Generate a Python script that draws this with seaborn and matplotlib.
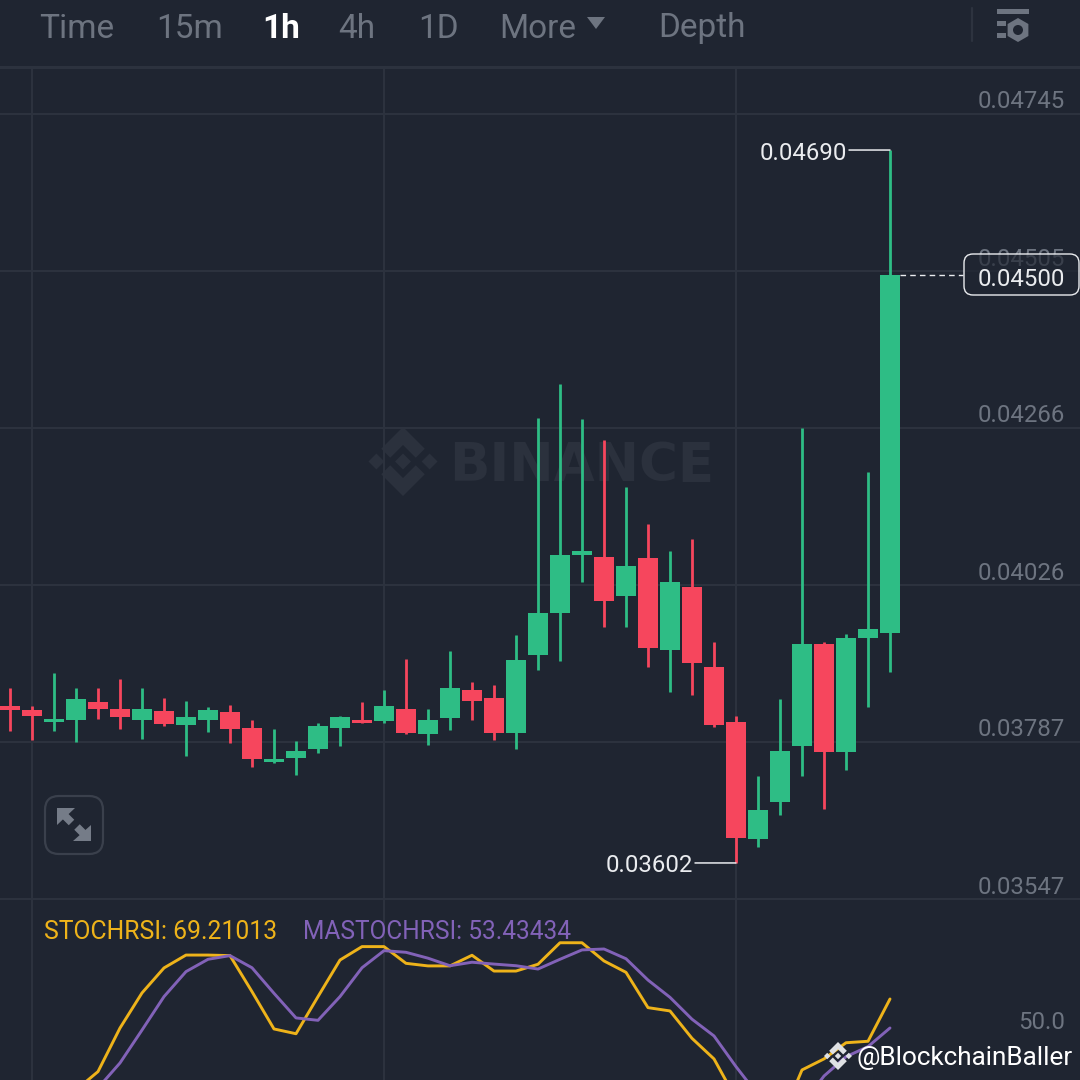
import matplotlib
matplotlib.use("Agg")
import matplotlib.pyplot as plt
import pandas as pd
import seaborn as sns
from matplotlib.patches import Circle, FancyBboxPatch, Polygon, RegularPolygon

BG = "#1f2531"
GRID = "#2d333f"
GREEN = "#2ebd85"
RED = "#f6465d"
TICK_GREY = "#6d7480"
WHITE = "#eaecef"
YELLOW = "#eeb31a"
PURPLE = "#8262b8"

# candles, oldest first
opens = [0.038415, 0.038354, 0.038167, 0.038202, 0.038476, 0.038370, 0.038202, 0.038339, 0.038125, 0.038197,
         0.038319, 0.038075, 0.037561, 0.037626, 0.037755, 0.038075, 0.038197, 0.038186, 0.038374, 0.037993,
         0.038237, 0.038664, 0.038537, 0.037999, 0.039189, 0.039839, 0.040715, 0.040689, 0.040090, 0.040669,
         0.039270, 0.040236, 0.039011, 0.038176, 0.036381, 0.036950, 0.037800, 0.039366, 0.037709, 0.039449,
         0.039529]
highs = [0.038685, 0.038415, 0.038924, 0.038690, 0.038690, 0.038823, 0.038695, 0.038533, 0.038487, 0.038396,
         0.038426, 0.038197, 0.038060, 0.037877, 0.038151, 0.038263, 0.038476, 0.038664, 0.039133, 0.038365,
         0.039255, 0.038777, 0.038736, 0.039499, 0.042806, 0.043329, 0.042791, 0.042475, 0.041762, 0.041193,
         0.040776, 0.040964, 0.039392, 0.038258, 0.037343, 0.038522, 0.042658, 0.039387, 0.039514, 0.041986,
         0.046900]
lows = [0.038038, 0.037896, 0.038034, 0.037871, 0.038217, 0.038064, 0.037912, 0.038110, 0.037652, 0.038019,
        0.037846, 0.037489, 0.037550, 0.037362, 0.037698, 0.037805, 0.038151, 0.038160, 0.037993, 0.037825,
        0.038049, 0.038197, 0.037896, 0.037759, 0.038969, 0.039098, 0.040308, 0.039626, 0.039616, 0.039011,
        0.038629, 0.038579, 0.038090, 0.036020, 0.036259, 0.036747, 0.037347, 0.036839, 0.037439, 0.038400,
        0.038934]
closes = [0.038354, 0.038263, 0.038212, 0.038518, 0.038365, 0.038252, 0.038374, 0.038136, 0.038243, 0.038350,
          0.038064, 0.037607, 0.037607, 0.037724, 0.038115, 0.038243, 0.038151, 0.038415, 0.038003, 0.038197,
          0.038685, 0.038487, 0.038003, 0.039117, 0.039839, 0.040715, 0.040785, 0.040022, 0.040547, 0.039301,
          0.040308, 0.039067, 0.038130, 0.036396, 0.036833, 0.037724, 0.039366, 0.037709, 0.039449, 0.039586,
          0.045000]

# oscillator starts at candle 3
stoch_start = 3
stochrsi = [19.7, 29.7, 53.4, 72.5, 86.1, 93.1, 93.1, 92.8, 73.2, 52.9, 50.3, 70.5, 90.4, 97.7, 97.7, 88.6, 87.2,
            87.2, 93.0, 84.4, 84.4, 88.1, 99.8, 99.8, 89.9, 83.7, 64.5, 62.7, 47.8, 36.6, 14.9, 3.4, 2.3, 30.6,
            36.6, 45.4, 46.2, 69.21013]
mastochrsi = [7.7, 20.8, 34.4, 52.3, 70.5, 84.1, 90.8, 92.8, 86.2, 72.3, 58.9, 57.6, 70.5, 86.2, 95.5, 94.6, 91.4,
              87.3, 89.2, 88.2, 87.3, 85.5, 90.8, 95.9, 96.4, 91.1, 79.5, 70.1, 58.2, 49.1, 32.4, 17.0, 8.8, 11.5,
              27.3, 37.8, 43.3, 53.43434]

price_ticks = [0.04745, 0.04505, 0.04266, 0.04026, 0.03787, 0.03547]
grid_candles = [1, 17, 33]
tabs = ["Time", "15m", "1h", "4h", "1D", "More", "Depth"]
tab_x = [39, 156, 262, 338, 418, 499, 658]


def px_axes(fig, zorder):
    a = fig.add_axes([0, 0, 1, 1], zorder=zorder)
    a.set_xlim(0, 1080)
    a.set_ylim(1080, 0)
    a.axis("off")
    return a


def binance_logo(a, cx, cy, r, color, zorder=1):
    dia = 0.23
    for dx in (-0.77, 0, 0.77):
        a.add_patch(Polygon([(cx + (dx - dia) * r, cy), (cx + dx * r, cy - dia * r),
                             (cx + (dx + dia) * r, cy), (cx + dx * r, cy + dia * r)],
                            fc=color, ec="none", zorder=zorder))
    chevron = [(0, 1), (0.63, 0.37), (0.37, 0.11), (0, 0.48), (-0.37, 0.11), (-0.63, 0.37)]
    for s in (-1, 1):
        a.add_patch(Polygon([(cx + x * r, cy + s * y * r) for x, y in chevron],
                            fc=color, ec="none", zorder=zorder))


sns.set_theme(style="dark", rc={"axes.facecolor": "none", "figure.facecolor": BG, "savefig.facecolor": BG})
plt.rcParams["font.family"] = ["Roboto", "DejaVu Sans"]

fig = plt.figure(figsize=(10.8, 10.8), dpi=100)
back = px_axes(fig, 0)
ax = fig.add_axes([0, 181 / 1080, 1, 831 / 1080], zorder=1)
osc = fig.add_axes([0, 0, 1, 181 / 1080], zorder=1)
front = px_axes(fig, 3)

x_lim = (-10 / 22, 1070 / 22)

# watermark
binance_logo(back, 403, 461.5, 34.5, "#2b313d")
back.text(449, 466, "BINANCE", family="DejaVu Sans", fontweight="bold", fontsize=38.2,
          color="#2b313d", ha="left", va="center")

# candles
candles = pd.DataFrame({"open": opens, "high": highs, "low": lows, "close": closes})
candles["idx"] = candles.index
candles["color"] = [GREEN if c >= o else RED for o, c in zip(opens, closes)]
ax.vlines(candles["idx"], candles["low"], candles["high"], colors=candles["color"], lw=2.0, zorder=3)
ax.bar(candles["idx"], (candles["close"] - candles["open"]).abs(),
       bottom=candles[["open", "close"]].min(axis=1), width=20 / 22,
       color=candles["color"], linewidth=0, zorder=4)

ax.set_xlim(*x_lim)
ax.set_ylim(0.03547, 0.03547 + 831 * 1.5261e-5)
ax.set_xticks(grid_candles)
ax.set_yticks(price_ticks)
ax.tick_params(left=False, bottom=False, labelleft=False, labelbottom=False)
ax.grid(True, color=GRID, lw=1.4, zorder=0)
ax.set_axisbelow(True)
for side in ("left", "right"):
    ax.spines[side].set_visible(False)
for side in ("top", "bottom"):
    ax.spines[side].set_color(GRID)
    ax.spines[side].set_linewidth(1.4)

for tick in price_ticks:
    ax.annotate(f"{tick:.5f}", xy=(1, tick), xycoords=ax.get_yaxis_transform(),
                xytext=(-15, 12), textcoords="offset pixels", ha="right", va="center",
                fontsize=17.3, color=TICK_GREY, zorder=2)

# high / low callouts
for i, price, gap in [(40, highs[40], 41), (33, lows[33], 41)]:
    ax.annotate("", xy=(i, price), xytext=(-gap, 0), textcoords="offset pixels", zorder=6,
                arrowprops=dict(arrowstyle="-", color=WHITE, lw=1.1, shrinkA=0, shrinkB=0))
    ax.annotate(f"{price:.5f}", xy=(i, price), xytext=(-gap - 2, -3), textcoords="offset pixels",
                ha="right", va="center", fontsize=17.3, color=WHITE, zorder=6)

# last price line + tag
ax.hlines(closes[-1], 40.45, 43.3, colors=WHITE, lw=1.0, linestyles=(0, (4, 3)), zorder=5)
front.add_patch(FancyBboxPatch((964, 254), 115, 41, boxstyle="round,pad=0,rounding_size=9",
                               fc=(31 / 255, 37 / 255, 49 / 255, 0.65), ec=WHITE, lw=1.0))
front.text(1065, 280, f"{closes[-1]:.5f}", ha="right", va="center", fontsize=17.3, color=WHITE)

# oscillator
stoch_df = pd.DataFrame({
    "idx": range(stoch_start, stoch_start + len(stochrsi)),
    "stochrsi": stochrsi,
    "mastochrsi": mastochrsi,
})
sns.lineplot(data=stoch_df, x="idx", y="stochrsi", ax=osc, color=YELLOW, lw=2.1, legend=False, zorder=3)
sns.lineplot(data=stoch_df, x="idx", y="mastochrsi", ax=osc, color=PURPLE, lw=2.1, legend=False, zorder=3)
osc.set_xlim(*x_lim)
osc.set_ylim(25.13, 123.6)
osc.set_xticks(grid_candles)
osc.set_yticks([])
osc.set_xlabel("")
osc.set_ylabel("")
osc.tick_params(left=False, bottom=False, labelbottom=False)
osc.grid(True, axis="x", color=GRID, lw=1.4, zorder=0)
osc.set_axisbelow(True)
for side in osc.spines:
    osc.spines[side].set_visible(False)
osc.annotate("50.0", xy=(1, 50), xycoords=osc.get_yaxis_transform(), xytext=(-15, 12),
             textcoords="offset pixels", ha="right", va="center", fontsize=17.3, color=TICK_GREY)

front.text(44, 932, f"STOCHRSI: {stochrsi[-1]:.5f}", fontsize=17.8, color=YELLOW, ha="left", va="center")
front.text(303, 932, f"MASTOCHRSI: {mastochrsi[-1]:.5f}", fontsize=17.65, color=PURPLE, ha="left", va="center")

# tab bar
for label, x in zip(tabs, tab_x):
    active = label == "1h"
    front.text(x, 28.5, label, fontsize=24, ha="left", va="center",
               color="#ffffff" if active else TICK_GREY, fontweight="bold" if active else "normal")
front.add_patch(Polygon([(587, 17), (605, 17), (596, 29)], fc=TICK_GREY, ec="none"))
front.plot([972, 972], [8, 41], color=GRID, lw=1.6)
front.plot([0, 1080], [67, 67], color=GRID, lw=1.4)
for x0, x1, y0, y1 in [(997, 1029, 9, 14), (997, 1006, 21, 26), (997, 1006, 33, 38)]:
    front.add_patch(Polygon([(x0, y0), (x1, y0), (x1, y1), (x0, y1)], fc=TICK_GREY, ec="none"))
front.add_patch(RegularPolygon((1018, 30), 6, radius=12, fc=TICK_GREY, ec="none"))
front.add_patch(Circle((1018, 30), 5, fc=BG, ec="none"))

# expand button
front.add_patch(FancyBboxPatch((45, 796), 58, 58, boxstyle="round,pad=0,rounding_size=14",
                               fc="none", ec="#3a404c", lw=1.6))
front.add_patch(Polygon([(57, 808), (75, 808), (57, 825)], fc="#757c88", ec="none"))
front.add_patch(Polygon([(91, 841), (91, 825), (73, 841)], fc="#757c88", ec="none"))
front.plot([63, 71.5], [814, 822.5], color="#757c88", lw=5.6, solid_capstyle="butt")
front.plot([85, 77], [835, 827], color="#757c88", lw=5.6, solid_capstyle="butt")

# share watermark
binance_logo(front, 838, 1056, 14, "#dfe1e4")
front.text(856, 1058, "@BlockchainBaller", fontsize=18.8, color="#ffffff", ha="left", va="center")

fig.savefig("out.png", dpi=100)
plt.close()
